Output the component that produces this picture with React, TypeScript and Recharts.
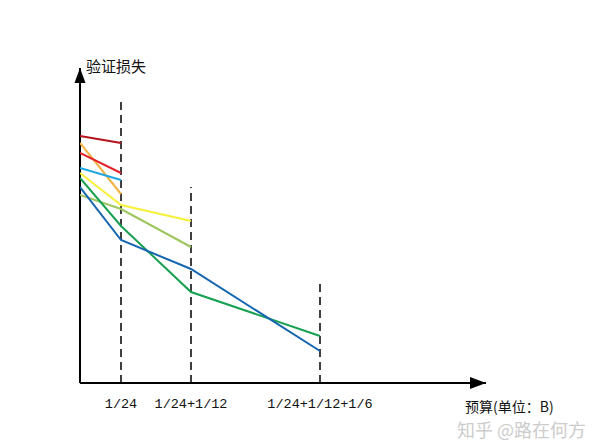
import { Line, LineChart, ReferenceDot, ReferenceLine, XAxis, YAxis } from "recharts";

// budget stops drawn on the x axis (drawing units, the original is not to scale)
const budgetStops = [0, 0.41, 1.11, 2.4];
const stopLabels = ["", "1/24", "1/24+1/12", "1/24+1/12+1/6"];
const guideTops = [2.83, 1.96, 1.03];

const X_MAX = 4.06;
const Y_MAX = 3.15;

// validation loss per run, one value per budget stop reached
const darkRedLoss = [2.47, 2.4];
const orangeLoss = [2.4, 1.89];
const redLoss = [2.3, 2.1];
const lightBlueLoss = [2.15, 2.03];
const yellowLoss = [2.1, 1.78, 1.62];
const lightGreenLoss = [1.88, 1.74, 1.36];
const greenLoss = [2.05, 1.57, 0.91, 0.47];
const blueLoss = [1.96, 1.43, 1.14, 0.32];

const series = [
  { name: "darkRed", values: darkRedLoss, color: "#b5121b" },
  { name: "orange", values: orangeLoss, color: "#f2b140" },
  { name: "red", values: redLoss, color: "#e3222b" },
  { name: "lightBlue", values: lightBlueLoss, color: "#1ea7e1" },
  { name: "yellow", values: yellowLoss, color: "#f7f03a" },
  { name: "lightGreen", values: lightGreenLoss, color: "#9dc75e" },
  { name: "green", values: greenLoss, color: "#16a050" },
  { name: "blue", values: blueLoss, color: "#1566b0" },
];

const toPoints = (values: number[]) => values.map((y, i) => ({ x: budgetStops[i], y }));

const cjk = '"Noto Sans CJK SC", "Noto Sans", sans-serif';

function StopTick({ x, y, payload }: { x?: number; y?: number; payload?: { value: number } }) {
  const idx = budgetStops.indexOf(payload?.value ?? -1);
  return (
    <text
      x={x}
      y={(y ?? 0) + 25}
      textAnchor="middle"
      fontSize={13.5}
      fontFamily='"Liberation Mono", monospace'
      fill="#111"
    >
      {stopLabels[idx] ?? ""}
    </text>
  );
}

function XArrow({ cx = 0, cy = 0 }: { cx?: number; cy?: number }) {
  return (
    <g>
      <path d={`M${cx},${cy} L${cx - 16},${cy - 6} L${cx - 16},${cy + 6} Z`} fill="#000" />
      <text x={cx - 21} y={cy + 23} fontSize={14} fontFamily={cjk} fill="#111" dominantBaseline="central">
        预算(单位：B)
      </text>
    </g>
  );
}

function YArrow({ cx = 0, cy = 0 }: { cx?: number; cy?: number }) {
  return (
    <g>
      <path d={`M${cx},${cy} L${cx - 5.5},${cy + 15} L${cx + 5.5},${cy + 15} Z`} fill="#000" />
      <text x={cx + 6} y={cy - 3} fontSize={15} fontFamily={cjk} fill="#111" dominantBaseline="central">
        验证损失
      </text>
    </g>
  );
}

export default function App() {
  return (
    <div style={{ position: "absolute", left: 0, top: 0, width: 600, height: 448, background: "#fff" }}>
      <LineChart width={600} height={448} margin={{ top: 68, right: 114, left: 80, bottom: 25 }}>
        <XAxis
          type="number"
          dataKey="x"
          domain={[0, X_MAX]}
          ticks={budgetStops.slice(1)}
          tick={<StopTick />}
          tickLine={false}
          tickSize={0}
          tickMargin={0}
          height={40}
          axisLine={{ stroke: "#000", strokeWidth: 2 }}
          allowDataOverflow
        />
        <YAxis type="number" dataKey="y" domain={[0, Y_MAX]} width={0} hide allowDataOverflow />
        <ReferenceLine x={0} stroke="#000" strokeWidth={2} ifOverflow="visible" />
        {budgetStops.slice(1).map((s, i) => (
          <ReferenceLine
            key={s}
            segment={[
              { x: s, y: 0 },
              { x: s, y: guideTops[i] },
            ]}
            stroke="#000"
            strokeWidth={1.5}
            strokeDasharray="8 5"
            ifOverflow="visible"
          />
        ))}
        {series.map((s) => (
          <Line
            key={s.name}
            data={toPoints(s.values)}
            dataKey="y"
            type="linear"
            stroke={s.color}
            strokeWidth={2}
            dot={false}
            activeDot={false}
            isAnimationActive={false}
          />
        ))}
        <ReferenceDot x={X_MAX} y={0} r={0} ifOverflow="visible" shape={(p: any) => <XArrow cx={p.cx} cy={p.cy} />} />
        <ReferenceDot x={0} y={Y_MAX} r={0} ifOverflow="visible" shape={(p: any) => <YArrow cx={p.cx} cy={p.cy} />} />
      </LineChart>
      <div
        style={{
          position: "absolute",
          left: 457,
          top: 420,
          fontSize: 18,
          lineHeight: "18px",
          fontFamily: cjk,
          color: "#cccccc",
          whiteSpace: "nowrap",
        }}
      >
        知乎 @路在何方
      </div>
    </div>
  );
}
